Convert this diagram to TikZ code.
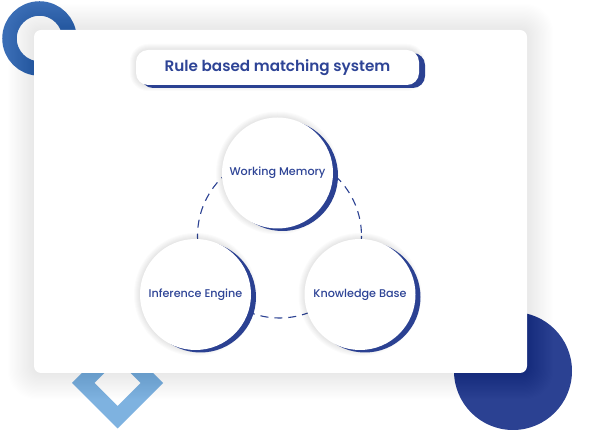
\documentclass[tikz,border=0pt]{standalone}
\usepackage{fontspec}
\setmainfont{Poppins}
\IfFontExistsTF{Poppins Medium}{\newfontfamily\bubblefont{Poppins Medium}}{\newfontfamily\bubblefont{Poppins}}
\IfFontExistsTF{Poppins SemiBold}{\newfontfamily\titlefont{Poppins SemiBold}}{\newfontfamily\titlefont{Poppins}[FakeBold=0]}
\definecolor{navy}{HTML}{2B4192}
\definecolor{ringblue}{HTML}{3A6DB5}
\definecolor{lightblue}{HTML}{7EB2E0}
\definecolor{txt}{HTML}{2E4496}
\begin{document}
\begin{tikzpicture}[x=1pt,y=-1pt,
  pill/.style={fill=white, rounded corners=12pt},
  pillback/.style={fill=navy, rounded corners=12pt},
  bubble/.style={circle, fill=white, minimum size=111pt, inner sep=0pt, text=txt, font=\bubblefont\fontsize{11.2}{13}\selectfont},
  bubbleback/.style={circle, fill=navy, minimum size=111pt, inner sep=0pt},
  ring/.style={draw=navy, line width=1.1pt, dash pattern=on 8pt off 6pt}
]
\useasboundingbox (0,0) rectangle (595,430);
\fill[white] (0,0) rectangle (595,430);
% decorations behind the card
\draw[ringblue, line width=14.5pt] (39.5,38.5) circle (30);
\fill[lightblue, even odd rule] (117.5,337.5) -- (163,383) -- (117.5,428.5) -- (72,383) -- cycle
  (117.5,360) -- (140.5,383) -- (117.5,406) -- (94.5,383) -- cycle;
\fill[navy] (513,371) circle (59);
% card shadow
\foreach \i in {1,...,22} {
  \fill[black, opacity=0.0045, rounded corners=7pt+\i pt] (34-1.2*\i,30-1.2*\i) rectangle (527+1.2*\i,373+1.2*\i);
}
\fill[white, rounded corners=7pt] (34,30) rectangle (527,373);
% title
\foreach \i in {1,...,6} {
  \fill[black, opacity=0.014, rounded corners=12pt+\i pt] (136-\i,50-\i) rectangle (419+\i,85+\i);
}
\path[pillback] (141,53) rectangle (425,88);
\path[pill] (136,50) rectangle (419,85);
\node[text=txt, font=\titlefont\fontsize{15.2}{17}\selectfont] (title) at (277.5,67.5) {Rule based matching system};
% dashed cycle
\coordinate (dc) at (279.5,236);
\draw[ring] (dc) circle (82);
% bubbles
\foreach \p in {(277.5,173),(195.5,294.5),(360,294.5)} {
  \foreach \i in {1,...,6} {
    \fill[black, opacity=0.014] \p circle (55.5+\i);
  }
}
\node[bubbleback] (wmb) at (282.5,175.5) {};
\node[bubble] (wm) at (277.5,173) {Working Memory};
\node[bubbleback] (ieb) at (200.5,297) {};
\node[bubble] (ie) at (195.5,294.5) {Inference Engine};
\node[bubbleback] (kbb) at (365,297) {};
\node[bubble] (kb) at (360,294.5) {Knowledge Base};
\end{tikzpicture}
\end{document}
